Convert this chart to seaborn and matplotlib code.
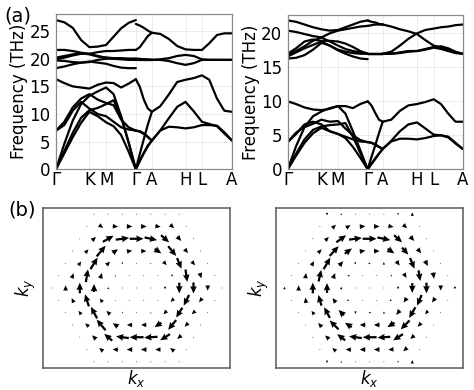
import numpy as np
import pandas as pd
import matplotlib
matplotlib.use("Agg")
import matplotlib.pyplot as plt
import seaborn as sns

# ---------------- data: phonon dispersions ----------------
K_LABELS = ["Γ", "K", "M", "Γ", "A", "H", "L", "A"]
K_TICKS_L = [0, 33.3, 50, 79.7, 95.7, 129.3, 145.7, 175.7]
K_TICKS_R = [0, 33.7, 50.3, 80, 95, 129.3, 146, 175]

S1L = [0, 8.3, 16.7, 25, 33.3, 41.7, 50, 57.5, 65, 72.5, 79.7]
S2L = [79.7, 83.7, 87.7, 91.7, 95.7]
S3L = [95.7, 104, 112.5, 121, 129.3, 137.5, 145.7, 153, 160.7, 168, 175.7]

L_SEG1 = [
    [0, 2.9, 5.8, 8.4, 10.4, 9.6, 8.5, 7.8, 6.2, 3.2, 0],
    [0, 3.3, 6.6, 9.3, 10.7, 11.1, 11.8, 12.5, 9.5, 4.8, 0],
    [0, 4.6, 8.8, 11.8, 13.3, 14.1, 14.8, 13.6, 9.6, 4.9, 0],
    [7.0, 8.0, 10.6, 12.2, 11.0, 10.0, 9.6, 8.6, 7.6, 7.2, 7.0],
    [7.0, 8.6, 11.2, 12.8, 13.6, 12.6, 12.0, 11.6, 9.0, 7.6, 7.0],
    [16.3, 15.6, 15.0, 14.8, 14.6, 15.3, 15.7, 15.6, 14.8, 15.5, 16.3],
    [18.3, 18.6, 19.0, 19.3, 19.5, 19.3, 19.1, 18.7, 18.4, 18.3, 18.3],
    [19.7, 19.6, 19.4, 19.3, 19.4, 19.8, 20.0, 20.0, 19.9, 19.8, 19.8],
    [19.9, 20.2, 20.6, 20.9, 20.9, 20.5, 20.2, 20.1, 20.0, 20.0, 20.0],
    [20.2, 20.5, 20.8, 21.0, 20.8, 20.4, 20.2, 20.1, 20.1, 20.0, 20.0],
    [21.6, 21.6, 21.4, 21.1, 20.9, 21.2, 21.4, 21.4, 21.5, 21.6, 21.6],
    [27.0, 26.6, 25.6, 23.4, 22.1, 22.2, 22.5, 24.0, 25.5, 26.5, 27.0],
]
L_SEG2 = [
    [0, 1.5, 2.9, 4.2, 5.2],
    [0, 1.6, 3.0, 4.3, 5.2],
    [0, 2.8, 5.5, 8.1, 10.4],
    [7.0, 6.8, 6.4, 5.8, 5.2],
    [7.0, 6.9, 6.5, 5.9, 5.2],
    [16.3, 14.9, 12.6, 11.0, 10.4],
    [19.8, 19.8, 19.8, 19.8, 19.8],
    [20.0, 19.9, 19.9, 19.8, 19.8],
    [20.0, 20.0, 19.9, 19.9, 19.8],
    [21.6, 22.1, 23.1, 24.1, 24.7],
    [26.3, 26.0, 25.6, 25.1, 24.7],
]
L_SEG3 = [
    [5.2, 7.0, 7.7, 7.6, 7.4, 7.6, 8.0, 8.0, 7.9, 6.7, 5.2],
    [5.2, 7.0, 9.2, 11.3, 12.2, 10.5, 8.6, 8.2, 7.8, 6.5, 5.2],
    [10.4, 11.4, 13.5, 15.8, 16.2, 16.5, 17.0, 16.2, 12.8, 10.6, 10.4],
    [19.8, 19.9, 20.1, 20.5, 20.7, 20.5, 19.9, 19.8, 19.8, 19.8, 19.8],
    [19.8, 19.8, 19.6, 19.2, 18.9, 19.2, 19.8, 19.8, 19.8, 19.8, 19.8],
    [24.7, 24.5, 23.6, 22.3, 21.7, 21.6, 21.6, 22.8, 24.3, 24.6, 24.6],
]

S1R = [0, 8.4, 16.8, 25.3, 33.7, 42, 50.3, 57.7, 65.2, 72.6, 80]
S2R = [80, 83.75, 87.5, 91.25, 95]
S3R = [95, 103.6, 112.2, 120.7, 129.3, 137.7, 146, 153.3, 160.5, 167.8, 175]

R_SEG1 = [
    [0, 2.0, 3.9, 5.3, 6.1, 5.6, 5.2, 4.6, 3.3, 1.7, 0],
    [0, 2.3, 4.4, 5.8, 6.3, 6.5, 6.6, 6.8, 4.8, 2.4, 0],
    [0, 3.4, 6.2, 7.8, 8.5, 9.0, 9.3, 8.2, 5.6, 2.8, 0],
    [4.0, 5.2, 6.6, 7.0, 6.6, 5.6, 5.2, 4.8, 4.4, 4.1, 4.0],
    [4.0, 5.4, 6.2, 6.7, 7.3, 7.0, 7.1, 6.0, 5.0, 4.3, 4.0],
    [10.0, 9.6, 9.1, 8.8, 8.7, 8.9, 9.3, 9.3, 9.0, 9.6, 10.0],
    [16.3, 16.4, 16.8, 17.6, 18.6, 18.2, 17.5, 17.0, 16.6, 16.3, 16.2],
    [16.6, 17.2, 17.8, 18.3, 18.8, 18.2, 17.6, 17.3, 17.1, 17.0, 17.0],
    [17.0, 17.8, 18.8, 19.1, 18.9, 18.9, 18.8, 18.5, 18.0, 17.4, 17.0],
    [16.8, 17.4, 18.1, 18.9, 19.4, 20.0, 20.4, 20.6, 20.8, 21.0, 21.1],
    [20.4, 20.2, 19.9, 19.6, 19.4, 18.8, 18.2, 17.7, 17.4, 17.2, 17.0],
    [21.9, 21.7, 21.3, 20.9, 20.6, 20.4, 20.5, 20.9, 21.3, 21.7, 21.9],
]
R_SEG2 = [
    [0, 0.8, 1.5, 2.3, 3.0],
    [0, 0.8, 1.6, 2.3, 3.0],
    [0, 1.8, 3.5, 5.3, 7.0],
    [4.0, 3.9, 3.6, 3.3, 3.0],
    [4.0, 3.9, 3.7, 3.3, 3.0],
    [10.0, 9.4, 8.3, 7.3, 7.0],
    [17.0, 17.0, 17.0, 17.0, 17.0],
    [17.0, 17.0, 17.0, 17.0, 17.0],
    [17.0, 17.0, 17.0, 17.0, 17.0],
    [21.1, 21.2, 21.3, 21.3, 21.3],
    [21.9, 21.7, 21.6, 21.4, 21.3],
]
R_SEG3 = [
    [3.0, 4.1, 4.5, 4.5, 4.4, 4.6, 4.9, 5.0, 4.7, 3.8, 3.0],
    [3.0, 4.2, 5.6, 6.6, 6.9, 6.0, 5.1, 5.0, 4.8, 3.9, 3.0],
    [7.0, 7.3, 8.6, 9.4, 9.6, 9.9, 10.3, 9.6, 8.2, 7.0, 7.0],
    [17.0, 17.0, 17.1, 17.3, 17.4, 17.6, 17.9, 17.7, 17.4, 17.1, 17.0],
    [17.0, 17.0, 17.2, 17.4, 17.4, 17.7, 18.0, 18.1, 17.8, 17.3, 17.0],
    [17.0, 17.3, 18.2, 19.2, 20.0, 20.5, 20.7, 20.9, 21.0, 21.2, 21.3],
    [21.3, 21.0, 20.6, 20.3, 19.9, 19.0, 18.2, 17.9, 17.6, 17.2, 17.0],
]

# ---------------- data: vector fields (rows top -> bottom) ----------------
QL_U = [
    [0, 0, 0, 0, 0, 0, 0],
    [0, 0.22, 0.3, 0.32, 0.32, 0.3, 0.22, 0],
    [0, 0.22, 0.6, 0.75, 0.78, 0.7, 0.45, 0.22, 0],
    [0, 0.18, 0.5, 0.3, 0.3, 0.3, 0.38, 0.45, 0.2, 0],
    [0, 0.15, 0.4, 0.2, 0.05, 0, 0.05, 0.18, 0.25, 0.18, 0],
    [0, 0.1, 0.12, 0.1, 0.03, 0, 0, 0, 0.04, 0.1, 0.1, 0],
    [0, 0, 0, 0, 0, 0, 0, 0, 0, 0, 0, 0, 0],
    [0, -0.12, -0.22, -0.15, 0, 0, 0, 0, -0.18, -0.3, -0.18, 0],
    [0, -0.15, -0.35, -0.2, 0, 0, 0, -0.18, -0.35, -0.2, 0],
    [0, -0.2, -0.5, -0.3, -0.3, -0.3, -0.38, -0.45, -0.2, 0],
    [0, -0.22, -0.45, -0.72, -0.78, -0.75, -0.55, -0.22, 0],
    [0, -0.22, -0.3, -0.32, -0.32, -0.3, -0.22, 0],
    [0, 0, 0, 0, 0, 0, 0],
]
QL_V = [
    [0, 0, 0, 0, 0, 0, 0],
    [0, -0.18, -0.03, 0, 0, -0.05, -0.2, 0],
    [0, 0.2, 0.35, 0.1, 0, -0.15, -0.4, -0.25, 0],
    [0, 0.2, 0.6, 0.2, 0.04, 0, -0.25, -0.55, -0.22, 0],
    [0, 0.22, 0.65, 0.2, -0.1, 0, 0.05, -0.2, -0.6, -0.22, 0],
    [0, 0.28, 0.72, 0.3, 0.08, 0, 0, 0, -0.12, -0.7, -0.3, 0],
    [0, 0.3, 0.6, 0.45, 0.12, 0, 0, 0, -0.15, -0.6, -0.62, -0.3, 0],
    [0, 0.25, 0.68, 0.2, 0, 0, 0, 0, -0.18, -0.6, -0.22, 0],
    [0, 0.2, 0.65, 0.2, -0.08, 0, 0.08, -0.2, -0.55, -0.18, 0],
    [0, 0.18, 0.6, 0.18, 0, 0, -0.25, -0.55, -0.2, 0],
    [0, 0.22, 0.38, 0.1, 0, -0.05, -0.35, -0.2, 0],
    [0, 0.18, 0.03, 0, 0, 0, 0.18, 0],
    [0, 0, 0, 0, 0, 0, 0],
]
QR_U = [
    [0, 0, 0, 0, 0, 0, 0],
    [0.03, 0.2, 0.25, 0.32, 0.32, 0.3, 0.22, 0.03],
    [0, 0.2, 0.55, 0.72, 0.78, 0.72, 0.45, 0.22, 0],
    [0, 0.2, 0.5, 0.4, 0.32, 0.32, 0.38, 0.35, 0.2, 0],
    [0, 0.15, 0.38, 0.22, 0.06, 0.12, 0, 0.18, 0.25, 0.15, 0],
    [0.03, 0.05, 0.15, 0.12, -0.12, 0, 0, -0.1, 0.15, 0.1, 0.05, 0],
    [0, 0, 0, 0, 0, 0, 0, 0, 0, 0, 0, 0, 0],
    [0, -0.05, -0.18, -0.18, 0.12, 0, 0, 0.12, -0.18, -0.25, -0.18, 0],
    [0, -0.15, -0.32, -0.3, 0, -0.12, -0.05, -0.2, -0.35, -0.15, 0],
    [0, -0.2, -0.5, -0.38, -0.32, -0.32, -0.4, -0.5, -0.2, 0],
    [0, -0.22, -0.45, -0.72, -0.78, -0.72, -0.55, -0.22, 0],
    [0, -0.2, -0.3, -0.32, -0.32, -0.3, -0.22, 0],
    [0, 0, 0, 0, 0, 0, 0],
]
QR_V = [
    [-0.15, 0.1, 0, 0, 0, -0.12, 0.2],
    [0, 0.2, 0.15, 0.02, 0, -0.05, -0.2, 0],
    [0, 0.2, 0.4, 0.1, 0, -0.15, -0.4, -0.25, 0],
    [0, 0.2, 0.55, 0.3, 0.05, 0, -0.25, -0.4, -0.25, 0],
    [0, 0.25, 0.65, 0.25, -0.12, 0, 0.15, -0.25, -0.6, -0.3, 0],
    [0, 0.3, 0.65, 0.3, 0, 0, 0, 0, -0.25, -0.6, -0.35, 0],
    [0.15, 0.3, 0.6, 0.55, 0.15, 0, 0, 0, -0.15, -0.55, -0.6, -0.3, -0.15],
    [0, 0.3, 0.6, 0.25, 0, 0, 0, 0, -0.25, -0.6, -0.25, 0],
    [0, 0.2, 0.6, 0.3, -0.15, 0, 0.12, -0.25, -0.6, -0.2, 0],
    [0, 0.22, 0.5, 0.25, 0, 0, -0.25, -0.5, -0.2, 0],
    [0, 0.2, 0.35, 0.1, 0, -0.05, -0.35, -0.2, 0],
    [0, 0.18, 0.03, 0, 0, -0.03, -0.2, 0],
    [-0.15, 0.1, 0, 0, 0, -0.1, 0.2],
]

# ---------------- figure ----------------
sns.set_style("white")
plt.rcParams["font.family"] = ["DejaVu Sans"]
plt.rcParams["mathtext.fontset"] = "dejavusans"
for key in ["text.color", "axes.labelcolor", "xtick.color", "ytick.color"]:
    plt.rcParams[key] = "black"

W, H = 474, 390
fig = plt.figure(figsize=(W / 100, H / 100), dpi=100)


def ax_px(l, t, r, b):
    return fig.add_axes([l / W, 1 - b / H, (r - l) / W, (b - t) / H])


def bands_frame(segs):
    rows = []
    uid = 0
    for ks, seg in segs:
        for band in seg:
            for k, f in zip(ks, band):
                rows.append((k, f, uid))
            uid += 1
    return pd.DataFrame(rows, columns=["k", "freq", "band"])


def dispersion(ax, df, ticks, ymax, yticks):
    sns.lineplot(data=df, x="k", y="freq", units="band", estimator=None,
                 sort=False, color="black", lw=1.6, ax=ax, legend=False)
    ax.set_xlim(ticks[0], ticks[-1])
    ax.set_ylim(0, ymax)
    ax.set_xticks(ticks)
    ax.set_xticklabels(K_LABELS)
    ax.set_yticks(yticks)
    ax.grid(True, color="#e8e8e8", lw=0.6)
    ax.set_axisbelow(True)
    ax.tick_params(axis="x", length=0, labelsize=12, pad=1)
    ax.tick_params(axis="y", length=0, labelsize=12, pad=4)
    ax.set_xlabel("")
    ax.set_ylabel("Frequency (THz)", fontsize=12, labelpad=1)
    for s in ax.spines.values():
        s.set_color("#8a8a8a")
        s.set_linewidth(0.9)


axL = ax_px(56, 14, 232, 169.3)
dispersion(axL, bands_frame([(S1L, L_SEG1), (S2L, L_SEG2), (S3L, L_SEG3)]),
           K_TICKS_L, 28.1, [0, 5, 10, 15, 20, 25])
axR = ax_px(287.7, 15, 462.7, 169.3)
dispersion(axR, bands_frame([(S1R, R_SEG1), (S2R, R_SEG2), (S3R, R_SEG3)]),
           K_TICKS_R, 22.7, [0, 5, 10, 15, 20])


def lattice():
    xs, ys = [], []
    for j in range(13):
        r = 6 - j
        n = 13 - abs(r)
        x0 = -(6 - abs(r) / 2)
        for k in range(n):
            xs.append(x0 + k)
            ys.append(r * np.sqrt(3) / 2)
    return np.array(xs), np.array(ys)


def field(ax, U, V):
    x, y = lattice()
    u = np.concatenate([np.array(r, float) for r in U])
    v = np.concatenate([np.array(r, float) for r in V])
    ax.quiver(x, y, u, v, pivot="middle", angles="xy", scale_units="xy",
              scale=0.8, width=0.012, headwidth=3.0, headlength=3.3,
              headaxislength=3.0, color="black", minlength=0.4)
    ax.set_xlim(-6.57, 6.57)
    ax.set_ylim(-5.65, 5.65)
    ax.set_xticks([])
    ax.set_yticks([])
    ax.set_xlabel("$k_x$", fontsize=12, labelpad=0)
    ax.set_ylabel("$k_y$", fontsize=12, labelpad=4)
    for s in ax.spines.values():
        s.set_color("#5a5a5a")
        s.set_linewidth(1.1)


axQL = ax_px(43.3, 207.7, 230, 368.3)
field(axQL, QL_U, QL_V)
axQR = ax_px(276.3, 207.7, 463, 368.3)
field(axQR, QR_U, QR_V)

fig.text(4 / W, 1 - 15.5 / H, "(a)", fontsize=14, va="center", ha="left")
fig.text(8 / W, 1 - 210 / H, "(b)", fontsize=14, va="center", ha="left")

fig.savefig("out.png", dpi=100)
